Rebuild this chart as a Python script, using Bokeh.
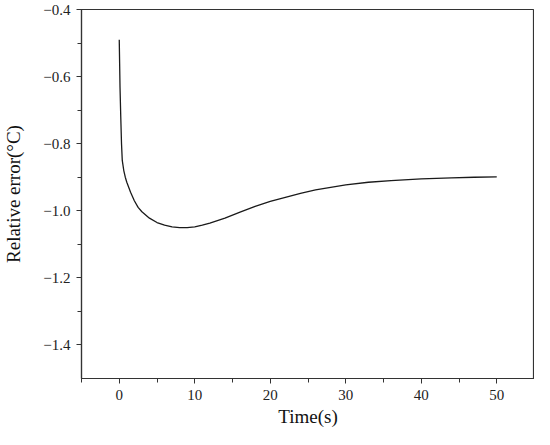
from bokeh.plotting import figure
from bokeh.models import Range1d, SingleIntervalTicker, CustomJSTickFormatter
from bokeh.embed import file_html
from bokeh.resources import INLINE

# values
time_s = [0, 0.05, 0.1, 0.2, 0.3, 0.4, 0.6, 0.8, 1.0, 1.5, 2, 2.5, 3, 4, 5, 6, 7, 8, 9,
          10, 11, 12, 14, 16, 18, 20, 22, 24, 26, 28, 30, 33, 36, 40, 44, 47, 50]
rel_error = [-0.49, -0.56, -0.63, -0.72, -0.80, -0.85, -0.88, -0.90, -0.915, -0.945,
             -0.97, -0.99, -1.003, -1.022, -1.035, -1.043, -1.048, -1.05, -1.05,
             -1.048, -1.043, -1.037, -1.022, -1.004, -0.987, -0.972, -0.96, -0.948,
             -0.938, -0.93, -0.923, -0.915, -0.91, -0.905, -0.902, -0.9, -0.899]

x_label = "Time(s)"
y_label = "Relative error(\u00b0C)"

FONT = "Liberation Serif"

p = figure(
    width=534,
    height=429,
    x_range=Range1d(-5, 55),
    y_range=Range1d(-1.5, -0.4),
    x_axis_label=x_label,
    y_axis_label=y_label,
    output_backend="svg",
    toolbar_location=None,
    min_border_left=74,
    min_border_right=0,
    min_border_top=9,
    min_border_bottom=40,
)

p.line(time_s, rel_error, line_width=1.3, color="#1a1a1a")

p.xgrid.visible = False
p.ygrid.visible = False
p.outline_line_color = "#333333"
p.outline_line_width = 1.2

p.xaxis.ticker = SingleIntervalTicker(interval=10, num_minor_ticks=2)
p.yaxis.ticker = SingleIntervalTicker(interval=0.2, num_minor_ticks=2)
p.yaxis.formatter = CustomJSTickFormatter(code="return tick.toFixed(1).replace('-', '\\u2212');")

for ax in (p.xaxis, p.yaxis):
    ax.axis_line_color = "#333333"
    ax.axis_line_width = 1.2
    ax.major_tick_line_color = "#333333"
    ax.minor_tick_line_color = "#333333"
    ax.major_tick_in = 0
    ax.major_tick_out = 5
    ax.minor_tick_in = 0
    ax.minor_tick_out = 4
    ax.major_label_text_font = FONT
    ax.major_label_text_font_size = "15px"
    ax.major_label_text_color = "#222222"
    ax.axis_label_text_font = FONT
    ax.axis_label_text_font_size = "19px"
    ax.axis_label_text_font_style = "normal"
    ax.axis_label_text_color = "#111111"

p.xaxis.major_label_standoff = 6
p.xaxis.axis_label_standoff = 3
p.yaxis.major_label_standoff = 6
p.yaxis.axis_label_standoff = 16

open("out.html", "w").write(file_html(p, INLINE))
